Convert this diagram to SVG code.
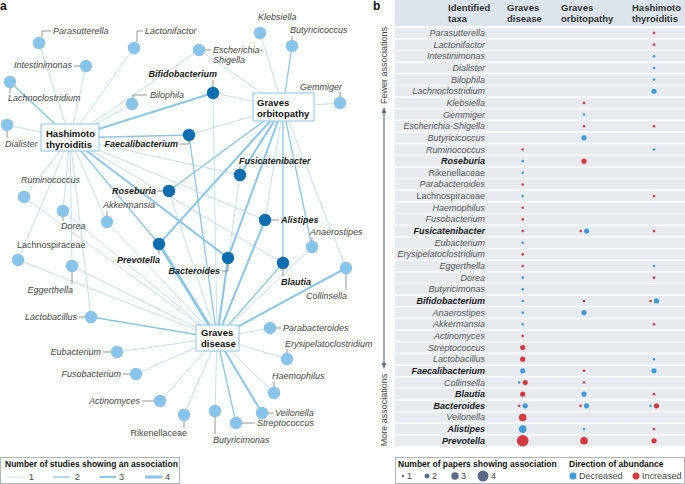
<svg xmlns="http://www.w3.org/2000/svg" width="685" height="484" viewBox="0 0 685 484">
<style>
text{font-family:"Liberation Sans",Arial,sans-serif;}
.pl{font-size:12px;font-weight:bold;fill:#111;}
.lab{font-size:9px;font-style:italic;fill:#444;}
.lab.n{font-style:normal;}
.lab.bd{font-weight:bold;fill:#1a1a1a;}
.end{text-anchor:end;}
.mid{text-anchor:middle;}
.hub{font-size:9.5px;font-weight:bold;fill:#111;}
.hubbox{fill:#fff;stroke:#8cc5ea;stroke-width:1;}
.e{stroke:#8cc5ea;fill:none;}
.w1{stroke-width:0.7;stroke:#a9d4f1;}
.w2{stroke-width:1.3;}
.w3{stroke-width:2;}
.w4{stroke-width:3;}
.ln{fill:#88c3ea;}
.dk{fill:#0c6db0;}
.ld{stroke:#777;stroke-width:0.8;fill:none;}
.row{fill:#e7ebf0;}
.hdr{fill:#dde3ea;}
.ht{font-size:9.5px;font-weight:bold;fill:#333;}
.tl{font-size:9px;font-style:italic;fill:#555;text-anchor:end;}
.tl.n{font-style:normal;}
.tl.bd{font-weight:bold;fill:#1a1a1a;}
.r{fill:#d4393f;}
.b{fill:#3f9ad8;}
.g{fill:#5a6a8a;}
.lg{font-size:8.5px;font-weight:bold;fill:#111;}
.lt{font-size:9px;fill:#444;}
.lgbox{fill:#fff;stroke:#9aa5b5;stroke-width:0.8;}
</style>
<defs>
<marker id="ah" viewBox="0 0 10 10" refX="5" refY="5" markerWidth="5" markerHeight="5" orient="auto-start-reverse">
<path d="M0,1 L10,5 L0,9 z" fill="#5f6f8a"/>
</marker>
</defs>
<rect width="685" height="484" fill="#fff"/>
<text class="pl" x="0" y="10">a</text>
<text class="pl" x="373" y="10">b</text>

<g id="connectors">
<line class="e w1" x1="39" y1="43" x2="70" y2="138"/>
<line class="e w1" x1="134" y1="48" x2="70" y2="138"/>
<line class="e w1" x1="86" y1="66" x2="70" y2="138"/>
<line class="e w1" x1="7" y1="125" x2="70" y2="138"/>
<line class="e w1" x1="132" y1="104" x2="70" y2="138"/>
<line class="e w2" x1="10" y1="82" x2="70" y2="138"/>
<line class="e w1" x1="260" y1="33" x2="283" y2="107"/>
<line class="e w1" x1="340" y1="103" x2="283" y2="107"/>
<line class="e w1" x1="199" y1="50" x2="283" y2="107"/>
<line class="e w1" x1="199" y1="50" x2="70" y2="138"/>
<line class="e w2" x1="292" y1="46" x2="283" y2="107"/>
<line class="e w1" x1="24" y1="197" x2="217" y2="338"/>
<line class="e w1" x1="24" y1="197" x2="70" y2="138"/>
<line class="e w1" x1="169" y1="191" x2="217" y2="338"/>
<line class="e w2" x1="169" y1="191" x2="283" y2="107"/>
<line class="e w1" x1="184" y1="415" x2="217" y2="338"/>
<line class="e w1" x1="270" y1="328" x2="217" y2="338"/>
<line class="e w1" x1="18" y1="260" x2="217" y2="338"/>
<line class="e w1" x1="18" y1="260" x2="70" y2="138"/>
<line class="e w1" x1="274" y1="393" x2="217" y2="338"/>
<line class="e w1" x1="136" y1="374" x2="217" y2="338"/>
<line class="e w1" x1="240" y1="175" x2="217" y2="338"/>
<line class="e w3" x1="240" y1="175" x2="283" y2="107"/>
<line class="e w1" x1="240" y1="175" x2="70" y2="138"/>
<line class="e w1" x1="117" y1="352" x2="217" y2="338"/>
<line class="e w1" x1="287" y1="359" x2="217" y2="338"/>
<line class="e w1" x1="72" y1="266" x2="217" y2="338"/>
<line class="e w1" x1="72" y1="266" x2="70" y2="138"/>
<line class="e w1" x1="63" y1="211" x2="217" y2="338"/>
<line class="e w1" x1="63" y1="211" x2="70" y2="138"/>
<line class="e w1" x1="215" y1="411" x2="217" y2="338"/>
<line class="e w1" x1="213" y1="93" x2="217" y2="338"/>
<line class="e w1" x1="213" y1="93" x2="283" y2="107"/>
<line class="e w3" x1="213" y1="93" x2="70" y2="138"/>
<line class="e w1" x1="312" y1="247" x2="217" y2="338"/>
<line class="e w2" x1="312" y1="247" x2="283" y2="107"/>
<line class="e w1" x1="107" y1="222" x2="217" y2="338"/>
<line class="e w1" x1="107" y1="222" x2="70" y2="138"/>
<line class="e w1" x1="160" y1="401" x2="217" y2="338"/>
<line class="e w2" x1="236" y1="423" x2="217" y2="338"/>
<line class="e w2" x1="91" y1="317" x2="217" y2="338"/>
<line class="e w1" x1="91" y1="317" x2="70" y2="138"/>
<line class="e w2" x1="189" y1="135" x2="217" y2="338"/>
<line class="e w1" x1="189" y1="135" x2="283" y2="107"/>
<line class="e w2" x1="189" y1="135" x2="70" y2="138"/>
<line class="e w3" x1="346" y1="268" x2="217" y2="338"/>
<line class="e w1" x1="346" y1="268" x2="283" y2="107"/>
<line class="e w2" x1="283" y1="263" x2="217" y2="338"/>
<line class="e w2" x1="283" y1="263" x2="283" y2="107"/>
<line class="e w1" x1="283" y1="263" x2="70" y2="138"/>
<line class="e w3" x1="228" y1="258" x2="217" y2="338"/>
<line class="e w3" x1="228" y1="258" x2="283" y2="107"/>
<line class="e w3" x1="228" y1="258" x2="70" y2="138"/>
<line class="e w3" x1="262" y1="413" x2="217" y2="338"/>
<line class="e w3" x1="265" y1="220" x2="217" y2="338"/>
<line class="e w1" x1="265" y1="220" x2="283" y2="107"/>
<line class="e w1" x1="265" y1="220" x2="70" y2="138"/>
<line class="e w4" x1="159" y1="244" x2="217" y2="338"/>
<line class="e w3" x1="159" y1="244" x2="283" y2="107"/>
<line class="e w2" x1="159" y1="244" x2="70" y2="138"/>
</g>

<g id="hub-hashimoto">
<rect class="hubbox" x="41" y="124" width="58" height="27"/>
<text class="hub" x="46" y="136.5">Hashimoto</text>
<text class="hub" x="46" y="147.5">thyroiditis</text>
</g>
<g id="hub-orbitopathy">
<rect class="hubbox" x="253" y="93" width="61" height="28"/>
<text class="hub" x="257" y="105.5">Graves</text>
<text class="hub" x="257" y="116.5">orbitopathy</text>
</g>
<g id="hub-disease">
<rect class="hubbox" x="196" y="325" width="43" height="26"/>
<text class="hub" x="201" y="335.5">Graves</text>
<text class="hub" x="201" y="346.5">disease</text>
</g>

<g id="n-parasutterella"><circle class="ln" cx="39" cy="43" r="6.2"/><path class="ld" d="M42,37V31H51"/><text class="lab" x="53" y="34">Parasutterella</text></g>
<g id="n-lactonifactor"><circle class="ln" cx="134" cy="48" r="6.2"/><path class="ld" d="M137,42V31H143"/><text class="lab" x="145" y="34">Lactonifactor</text></g>
<g id="n-escherichia"><circle class="ln" cx="199" cy="50" r="6.2"/><path class="ld" d="M205,50H211"/><text class="lab" x="213" y="53">Escherichia-</text><text class="lab" x="213" y="63">Shigella</text></g>
<g id="n-intestinimonas"><circle class="ln" cx="86" cy="66" r="6.2"/><path class="ld" d="M80,66H74"/><text class="lab end" x="72" y="68">Intestinimonas</text></g>
<g id="n-lachnoclostridium"><circle class="ln" cx="10" cy="82" r="6.2"/><path class="ld" d="M10,88V93"/><text class="lab" x="8" y="101">Lachnoclostridium</text></g>
<g id="n-bilophila"><circle class="ln" cx="132" cy="104" r="6.2"/><path class="ld" d="M133,98V95H147"/><text class="lab" x="150" y="98">Bilophila</text></g>
<g id="n-bifidobacterium"><circle class="dk" cx="213" cy="93" r="6.2"/><path class="ld" d="M213,87V80"/><text class="lab bd end" x="217" y="77">Bifidobacterium</text></g>
<g id="n-dialister"><circle class="ln" cx="7" cy="125" r="6.2"/><path class="ld" d="M7,131V138"/><text class="lab" x="5" y="147">Dialister</text></g>
<g id="n-faecalibacterium"><circle class="dk" cx="189" cy="135" r="6.2"/><path class="ld" d="M189,141V144H180"/><text class="lab bd end" x="178" y="147">Faecalibacterium</text></g>
<g id="n-klebsiella"><circle class="ln" cx="260" cy="33" r="6.2"/><text class="lab" x="258" y="20">Klebsiella</text></g>
<g id="n-butyricicoccus"><circle class="ln" cx="292" cy="46" r="6.2"/><path class="ld" d="M292,40V36"/><text class="lab" x="290" y="33">Butyricicoccus</text></g>
<g id="n-gemmiger"><circle class="ln" cx="340" cy="103" r="6.2"/><path class="ld" d="M340,97V92"/><text class="lab" x="300" y="90">Gemmiger</text></g>
<g id="n-fusicatenibacter"><circle class="dk" cx="240" cy="175" r="6.2"/><path class="ld" d="M240,169V166"/><text class="lab bd" x="239" y="164">Fusicatenibacter</text></g>
<g id="n-roseburia"><circle class="dk" cx="169" cy="191" r="6.2"/><path class="ld" d="M163,191H157"/><text class="lab bd end" x="156" y="194">Roseburia</text></g>
<g id="n-ruminococcus"><circle class="ln" cx="24" cy="197" r="6.2"/><text class="lab" x="21" y="183">Ruminococcus</text></g>
<g id="n-dorea"><circle class="ln" cx="63" cy="211" r="6.2"/><path class="ld" d="M63,217V221"/><text class="lab" x="61" y="229">Dorea</text></g>
<g id="n-akkermansia"><circle class="ln" cx="107" cy="222" r="6.2"/><path class="ld" d="M107,216V211"/><text class="lab" x="103" y="208">Akkermansia</text></g>
<g id="n-lachnospiraceae"><circle class="ln" cx="18" cy="260" r="6.2"/><text class="lab n" x="17" y="248">Lachnospiraceae</text></g>
<g id="n-eggerthella"><circle class="ln" cx="72" cy="266" r="6.2"/><path class="ld" d="M72,272V284"/><text class="lab end" x="73" y="293">Eggerthella</text></g>
<g id="n-prevotella"><circle class="dk" cx="159" cy="244" r="6.2"/><path class="ld" d="M159,250V254"/><text class="lab bd end" x="160" y="263">Prevotella</text></g>
<g id="n-alistipes"><circle class="dk" cx="265" cy="220" r="6.2"/><path class="ld" d="M271,220H279"/><text class="lab bd" x="281" y="223">Alistipes</text></g>
<g id="n-anaerostipes"><circle class="ln" cx="312" cy="247" r="6.2"/><path class="ld" d="M312,241V238"/><text class="lab" x="310" y="235">Anaerostipes</text></g>
<g id="n-bacteroides"><circle class="dk" cx="228" cy="258" r="6.2"/><path class="ld" d="M228,264V271H222"/><text class="lab bd end" x="220" y="274">Bacteroides</text></g>
<g id="n-blautia"><circle class="dk" cx="283" cy="263" r="6.2"/><path class="ld" d="M283,269V276"/><text class="lab bd" x="281" y="285">Blautia</text></g>
<g id="n-collinsella"><circle class="ln" cx="346" cy="268" r="6.2"/><path class="ld" d="M346,274V290"/><text class="lab end" x="347" y="299">Collinsella</text></g>
<g id="n-lactobacillus"><circle class="ln" cx="91" cy="317" r="6.2"/><path class="ld" d="M85,317H79"/><text class="lab end" x="77" y="320">Lactobacillus</text></g>
<g id="n-parabacteroides"><circle class="ln" cx="270" cy="328" r="6.2"/><path class="ld" d="M276,328H281"/><text class="lab" x="283" y="331">Parabacteroides</text></g>
<g id="n-erysipelatoclostridium"><circle class="ln" cx="287" cy="359" r="6.2"/><path class="ld" d="M287,353V349"/><text class="lab" x="285" y="347">Erysipelatoclostridium</text></g>
<g id="n-eubacterium"><circle class="ln" cx="117" cy="352" r="6.2"/><path class="ld" d="M111,352H103"/><text class="lab end" x="101" y="355">Eubacterium</text></g>
<g id="n-fusobacterium"><circle class="ln" cx="136" cy="374" r="6.2"/><path class="ld" d="M130,374H123"/><text class="lab end" x="121" y="377">Fusobacterium</text></g>
<g id="n-haemophilus"><circle class="ln" cx="274" cy="393" r="6.2"/><path class="ld" d="M274,387V382"/><text class="lab" x="272" y="379">Haemophilus</text></g>
<g id="n-actinomyces"><circle class="ln" cx="160" cy="401" r="6.2"/><path class="ld" d="M154,401H142"/><text class="lab end" x="140" y="404">Actinomyces</text></g>
<g id="n-rikenellaceae"><circle class="ln" cx="184" cy="415" r="6.2"/><path class="ld" d="M184,421V428"/><text class="lab n end" x="187" y="436">Rikenellaceae</text></g>
<g id="n-butyricimonas"><circle class="ln" cx="215" cy="411" r="6.2"/><path class="ld" d="M215,417V434"/><text class="lab" x="213" y="443">Butyricimonas</text></g>
<g id="n-streptococcus"><circle class="ln" cx="236" cy="423" r="6.2"/><path class="ld" d="M242,423H255"/><text class="lab" x="257" y="426">Streptococcus</text></g>
<g id="n-veilonella"><circle class="ln" cx="262" cy="413" r="6.2"/><path class="ld" d="M268,413H273"/><text class="lab" x="275" y="416">Veilonella</text></g>

<g id="legend-a">
<rect class="lgbox" x="0.5" y="457.5" width="179" height="26"/>
<text class="lg" x="5" y="467">Number of studies showing an association</text>
<line class="e w1" x1="7" y1="477" x2="24" y2="477"/><text class="lt" x="29" y="480">1</text>
<line class="e w2" x1="53" y1="477" x2="70" y2="477"/><text class="lt" x="75" y="480">2</text>
<line class="e w3" x1="100" y1="477" x2="116" y2="477"/><text class="lt" x="119" y="480">3</text>
<line class="e w4" x1="145" y1="477" x2="162" y2="477"/><text class="lt" x="165" y="480">4</text>
</g>

<g id="table-b">
<rect class="hdr" x="395" y="0" width="290" height="26"/>
<text class="ht" x="448" y="11">Identified</text><text class="ht" x="448" y="22">taxa</text>
<text class="ht" x="507" y="11">Graves</text><text class="ht" x="507" y="22">disease</text>
<text class="ht" x="561" y="11">Graves</text><text class="ht" x="561" y="22">orbitopathy</text>
<text class="ht" x="632" y="11">Hashimoto</text><text class="ht" x="632" y="22">thyroiditis</text>

<g id="rows">
<rect class="row" x="395" y="27.8" width="290" height="10.4"/>
<rect class="row" x="395" y="39.45" width="290" height="10.4"/>
<rect class="row" x="395" y="51.1" width="290" height="10.4"/>
<rect class="row" x="395" y="62.75" width="290" height="10.4"/>
<rect class="row" x="395" y="74.4" width="290" height="10.4"/>
<rect class="row" x="395" y="86.05" width="290" height="10.4"/>
<rect class="row" x="395" y="97.7" width="290" height="10.4"/>
<rect class="row" x="395" y="109.35" width="290" height="10.4"/>
<rect class="row" x="395" y="121" width="290" height="10.4"/>
<rect class="row" x="395" y="132.65" width="290" height="10.4"/>
<rect class="row" x="395" y="144.3" width="290" height="10.4"/>
<rect class="row" x="395" y="155.95" width="290" height="10.4"/>
<rect class="row" x="395" y="167.6" width="290" height="10.4"/>
<rect class="row" x="395" y="179.25" width="290" height="10.4"/>
<rect class="row" x="395" y="190.9" width="290" height="10.4"/>
<rect class="row" x="395" y="202.55" width="290" height="10.4"/>
<rect class="row" x="395" y="214.2" width="290" height="10.4"/>
<rect class="row" x="395" y="225.85" width="290" height="10.4"/>
<rect class="row" x="395" y="237.5" width="290" height="10.4"/>
<rect class="row" x="395" y="249.15" width="290" height="10.4"/>
<rect class="row" x="395" y="260.8" width="290" height="10.4"/>
<rect class="row" x="395" y="272.45" width="290" height="10.4"/>
<rect class="row" x="395" y="284.1" width="290" height="10.4"/>
<rect class="row" x="395" y="295.75" width="290" height="10.4"/>
<rect class="row" x="395" y="307.4" width="290" height="10.4"/>
<rect class="row" x="395" y="319.05" width="290" height="10.4"/>
<rect class="row" x="395" y="330.7" width="290" height="10.4"/>
<rect class="row" x="395" y="342.35" width="290" height="10.4"/>
<rect class="row" x="395" y="354" width="290" height="10.4"/>
<rect class="row" x="395" y="365.65" width="290" height="10.4"/>
<rect class="row" x="395" y="377.3" width="290" height="10.4"/>
<rect class="row" x="395" y="388.95" width="290" height="10.4"/>
<rect class="row" x="395" y="400.6" width="290" height="10.4"/>
<rect class="row" x="395" y="412.25" width="290" height="10.4"/>
<rect class="row" x="395" y="423.9" width="290" height="10.4"/>
<rect class="row" x="395" y="435.55" width="290" height="10.4"/>
</g>

<g id="taxa">
<text class="tl" x="485" y="36">Parasutterella</text>
<text class="tl" x="485" y="47.65">Lactonifactor</text>
<text class="tl" x="485" y="59.3">Intestinimonas</text>
<text class="tl" x="485" y="70.95">Dialister</text>
<text class="tl" x="485" y="82.6">Bilophila</text>
<text class="tl" x="485" y="94.25">Lachnoclostridium</text>
<text class="tl" x="485" y="105.9">Klebsiella</text>
<text class="tl" x="485" y="117.55">Gemmiger</text>
<text class="tl" x="485" y="129.2">Escherichia-Shigella</text>
<text class="tl" x="485" y="140.85">Butyricicoccus</text>
<text class="tl" x="485" y="152.5">Ruminococcus</text>
<text class="tl bd" x="485" y="164.15">Roseburia</text>
<text class="tl n" x="485" y="175.8">Rikenellaceae</text>
<text class="tl" x="485" y="187.45">Parabacteroides</text>
<text class="tl n" x="485" y="199.1">Lachnospiraceae</text>
<text class="tl" x="485" y="210.75">Haemophilus</text>
<text class="tl" x="485" y="222.4">Fusobacterium</text>
<text class="tl bd" x="485" y="234.05">Fusicatenibacter</text>
<text class="tl" x="485" y="245.7">Eubacterium</text>
<text class="tl" x="485" y="257.35">Erysipelatoclostridium</text>
<text class="tl" x="485" y="269">Eggerthella</text>
<text class="tl" x="485" y="280.65">Dorea</text>
<text class="tl" x="485" y="292.3">Butyricimonas</text>
<text class="tl bd" x="485" y="303.95">Bifidobacterium</text>
<text class="tl" x="485" y="315.6">Anaerostipes</text>
<text class="tl" x="485" y="327.25">Akkermansia</text>
<text class="tl" x="485" y="338.9">Actinomyces</text>
<text class="tl" x="485" y="350.55">Streptococcus</text>
<text class="tl" x="485" y="362.2">Lactobacillus</text>
<text class="tl bd" x="485" y="373.85">Faecalibacterium</text>
<text class="tl" x="485" y="385.5">Collinsella</text>
<text class="tl bd" x="485" y="397.15">Blautia</text>
<text class="tl bd" x="485" y="408.8">Bacteroides</text>
<text class="tl" x="485" y="420.45">Veilonella</text>
<text class="tl bd" x="485" y="432.1">Alistipes</text>
<text class="tl bd" x="485" y="443.75">Prevotella</text>
</g>

<g id="dots">
<circle class="r" cx="654" cy="33" r="1.3"/>
<circle class="r" cx="654" cy="44.65" r="1.3"/>
<circle class="b" cx="654" cy="56.3" r="1.3"/>
<circle class="b" cx="654" cy="67.95" r="1.3"/>
<circle class="b" cx="654" cy="79.6" r="1.3"/>
<circle class="b" cx="654" cy="91.25" r="2.6"/>
<circle class="r" cx="584" cy="102.9" r="1.3"/>
<circle class="b" cx="584" cy="114.55" r="1.3"/>
<circle class="r" cx="584" cy="126.2" r="1.3"/><circle class="r" cx="654" cy="126.2" r="1.3"/>
<circle class="b" cx="584" cy="137.85" r="2.6"/>
<circle class="r" cx="522.7" cy="149.5" r="1.3"/><circle class="b" cx="654" cy="149.5" r="1.3"/>
<circle class="b" cx="522.7" cy="161.15" r="1.3"/><circle class="r" cx="584" cy="161.15" r="2.6"/>
<circle class="b" cx="522.7" cy="172.8" r="1.3"/>
<circle class="r" cx="522.7" cy="184.45" r="1.3"/>
<circle class="b" cx="522.7" cy="196.1" r="1.3"/><circle class="r" cx="654" cy="196.1" r="1.3"/>
<circle class="r" cx="522.7" cy="207.75" r="1.3"/>
<circle class="r" cx="522.7" cy="219.4" r="1.3"/>
<circle class="r" cx="522.7" cy="231.05" r="1.3"/><circle class="r" cx="580.8" cy="231.05" r="1.3"/><circle class="b" cx="586.6" cy="231.05" r="2.6"/><circle class="r" cx="654" cy="231.05" r="1.3"/>
<circle class="b" cx="522.7" cy="242.7" r="1.3"/>
<circle class="r" cx="522.7" cy="254.35" r="1.3"/>
<circle class="r" cx="522.7" cy="266" r="1.3"/><circle class="b" cx="654" cy="266" r="1.3"/>
<circle class="b" cx="522.7" cy="277.65" r="1.3"/><circle class="r" cx="654" cy="277.65" r="1.3"/>
<circle class="b" cx="522.7" cy="289.3" r="1.3"/>
<circle class="b" cx="522.7" cy="300.95" r="1.3"/><circle class="r" cx="584" cy="300.95" r="1.3"/><circle class="r" cx="650.5" cy="300.95" r="1.3"/><circle class="b" cx="656.5" cy="300.95" r="2.6"/>
<circle class="b" cx="522.7" cy="312.6" r="1.3"/><circle class="b" cx="584" cy="312.6" r="2.6"/>
<circle class="b" cx="522.7" cy="324.25" r="1.3"/><circle class="r" cx="654" cy="324.25" r="1.3"/>
<circle class="r" cx="522.7" cy="335.9" r="1.3"/>
<circle class="r" cx="522.7" cy="347.55" r="2.6"/>
<circle class="r" cx="522.7" cy="359.2" r="2.6"/><circle class="b" cx="654" cy="359.2" r="1.3"/>
<circle class="b" cx="522.7" cy="370.85" r="2.6"/><circle class="r" cx="584" cy="370.85" r="1.3"/><circle class="b" cx="654" cy="370.85" r="2.6"/>
<circle class="b" cx="519.2" cy="382.5" r="1.3"/><circle class="r" cx="525.2" cy="382.5" r="2.6"/><circle class="r" cx="584" cy="382.5" r="1.3"/>
<circle class="r" cx="522.7" cy="394.15" r="2.6"/><circle class="b" cx="584" cy="394.15" r="2.6"/><circle class="r" cx="654" cy="394.15" r="1.3"/>
<circle class="r" cx="519.2" cy="405.8" r="1.3"/><circle class="b" cx="525.2" cy="405.8" r="2.6"/><circle class="r" cx="580.5" cy="405.8" r="1.3"/><circle class="b" cx="586.5" cy="405.8" r="2.6"/><circle class="b" cx="650.5" cy="405.8" r="1.3"/><circle class="r" cx="656.5" cy="405.8" r="2.6"/>
<circle class="r" cx="522.7" cy="417.45" r="3.8"/>
<circle class="b" cx="522.7" cy="429.1" r="3.8"/><circle class="b" cx="584" cy="429.1" r="1.3"/><circle class="r" cx="654" cy="429.1" r="1.3"/>
<circle class="r" cx="522.7" cy="440.75" r="5.8"/><circle class="r" cx="584" cy="440.75" r="3.8"/><circle class="r" cx="654" cy="440.75" r="2.6"/>
</g>

<g id="axis">
<line x1="384" y1="110" x2="384" y2="366" stroke="#5f6f8a" stroke-width="1.2" marker-start="url(#ah)" marker-end="url(#ah)"/>
<text class="lt mid" transform="translate(387,65.5) rotate(-90)">Fewer associations</text>
<text class="lt mid" transform="translate(387,410) rotate(-90)">More associations</text>
</g>
</g>

<g id="legend-b">
<rect class="lgbox" x="395.5" y="457.5" width="289" height="26"/>
<text class="lg" x="398" y="467">Number of papers showing association</text>
<circle class="g" cx="403" cy="476" r="1.2"/><text class="lt" x="407" y="479">1</text>
<circle class="g" cx="427" cy="476" r="2.5"/><text class="lt" x="432" y="479">2</text>
<circle class="g" cx="455" cy="476" r="3.7"/><text class="lt" x="461" y="479">3</text>
<circle class="g" cx="483" cy="476" r="5.5"/><text class="lt" x="491" y="479">4</text>
<text class="lg" x="569" y="467">Direction of abundance</text>
<circle class="b" cx="573" cy="476" r="3.5"/><text class="lt" x="579" y="479">Decreased</text>
<circle class="r" cx="636" cy="476" r="3.5"/><text class="lt" x="642" y="479">Increased</text>
</g>
</svg>
